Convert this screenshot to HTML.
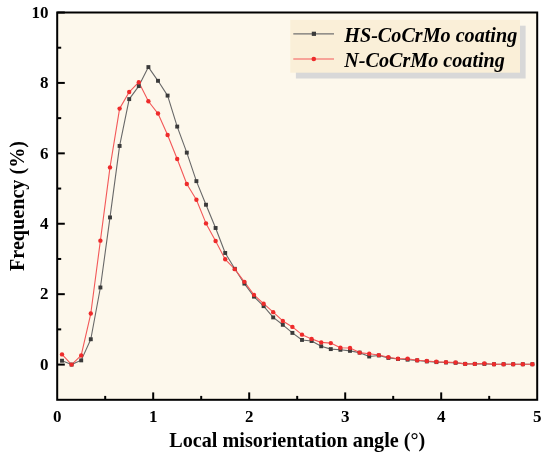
<!DOCTYPE html>
<html><head><meta charset="utf-8"><style>
html,body{margin:0;padding:0;background:#fff;}
body{width:550px;height:462px;overflow:hidden;}
svg{display:block;}
text{font-family:"Liberation Serif","Times New Roman",serif;font-weight:bold;fill:#000;}
.tl{font-size:17px;}
.at{font-size:20.15px;}
.leg{font-size:20.15px;font-style:italic;}
</style></head><body>
<svg width="550" height="462" viewBox="0 0 550 462">
<rect x="57.2" y="12.5" width="480.00000000000006" height="387.3" fill="#FDF8EC"/>
<rect x="295.90000000000003" y="25.7" width="229.7" height="52.8" fill="#D8D8D8"/>
<rect x="290.3" y="19.9" width="229.7" height="52.8" fill="#FAEFD8"/>
<line x1="293.3" y1="33.8" x2="334" y2="33.8" stroke="#707070" stroke-width="1.3"/>
<rect x="311.79999999999995" y="31.699999999999996" width="4.2" height="4.2" fill="#3a3a3a"/>
<line x1="293.3" y1="59" x2="334" y2="59" stroke="#F35858" stroke-width="1.2"/>
<circle cx="313.8" cy="59" r="2.3" fill="#EE2B2B"/>
<text x="344.3" y="41.7" class="leg">HS-CoCrMo coating</text>
<text x="344.3" y="66.8" class="leg">N-CoCrMo coating</text>
<polyline points="62.00,360.72 71.60,364.59 81.20,360.37 90.80,339.24 100.40,287.48 110.00,217.42 119.60,145.94 129.20,99.11 138.80,86.09 148.40,67.07 158.00,80.81 167.60,95.59 177.20,126.58 186.80,152.63 196.40,181.15 206.00,204.74 215.60,227.98 225.20,252.98 234.80,268.82 244.40,283.61 254.00,296.64 263.60,306.14 273.20,317.41 282.80,324.80 292.40,332.90 302.00,339.94 311.60,341.00 321.20,346.28 330.80,349.10 340.40,349.80 350.00,350.86 359.60,352.62 369.20,356.49 378.80,355.44 388.40,357.90 398.00,358.96 407.60,359.66 417.20,360.37 426.80,361.42 436.40,362.13 446.00,362.48 455.60,362.83 465.20,363.89 474.80,363.89 484.40,363.89 494.00,364.24 503.60,364.24 513.20,364.24 522.80,364.24 532.40,364.24" fill="none" stroke="#686868" stroke-width="1.1" stroke-linejoin="round"/>
<polyline points="62.00,354.38 71.60,364.59 81.20,355.44 90.80,313.54 100.40,240.65 110.00,167.42 119.60,108.62 129.20,92.07 138.80,82.21 148.40,101.23 158.00,113.55 167.60,135.03 177.20,158.97 186.80,183.97 196.40,199.81 206.00,223.40 215.60,241.01 225.20,259.32 234.80,269.17 244.40,281.85 254.00,294.88 263.60,303.68 273.20,312.13 282.80,320.93 292.40,326.92 302.00,334.66 311.60,338.89 321.20,342.41 330.80,343.11 340.40,347.69 350.00,348.04 359.60,352.62 369.20,353.68 378.80,355.08 388.40,357.20 398.00,358.78 407.60,358.78 417.20,360.19 426.80,361.07 436.40,361.77 446.00,362.13 455.60,362.48 465.20,363.89 474.80,363.89 484.40,363.53 494.00,364.24 503.60,364.24 513.20,364.24 522.80,364.24 532.40,364.24" fill="none" stroke="#F35858" stroke-width="1.1" stroke-linejoin="round"/>
<g fill="#3a3a3a"><rect x="60.05" y="358.77" width="3.9" height="3.9"/><rect x="69.65" y="362.64" width="3.9" height="3.9"/><rect x="79.25" y="358.42" width="3.9" height="3.9"/><rect x="88.85" y="337.29" width="3.9" height="3.9"/><rect x="98.45" y="285.53" width="3.9" height="3.9"/><rect x="108.05" y="215.47" width="3.9" height="3.9"/><rect x="117.65" y="143.99" width="3.9" height="3.9"/><rect x="127.25" y="97.16" width="3.9" height="3.9"/><rect x="136.85" y="84.14" width="3.9" height="3.9"/><rect x="146.45" y="65.12" width="3.9" height="3.9"/><rect x="156.05" y="78.86" width="3.9" height="3.9"/><rect x="165.65" y="93.64" width="3.9" height="3.9"/><rect x="175.25" y="124.63" width="3.9" height="3.9"/><rect x="184.85" y="150.68" width="3.9" height="3.9"/><rect x="194.45" y="179.20" width="3.9" height="3.9"/><rect x="204.05" y="202.79" width="3.9" height="3.9"/><rect x="213.65" y="226.03" width="3.9" height="3.9"/><rect x="223.25" y="251.03" width="3.9" height="3.9"/><rect x="232.85" y="266.87" width="3.9" height="3.9"/><rect x="242.45" y="281.66" width="3.9" height="3.9"/><rect x="252.05" y="294.69" width="3.9" height="3.9"/><rect x="261.65" y="304.19" width="3.9" height="3.9"/><rect x="271.25" y="315.46" width="3.9" height="3.9"/><rect x="280.85" y="322.85" width="3.9" height="3.9"/><rect x="290.45" y="330.95" width="3.9" height="3.9"/><rect x="300.05" y="337.99" width="3.9" height="3.9"/><rect x="309.65" y="339.05" width="3.9" height="3.9"/><rect x="319.25" y="344.33" width="3.9" height="3.9"/><rect x="328.85" y="347.15" width="3.9" height="3.9"/><rect x="338.45" y="347.85" width="3.9" height="3.9"/><rect x="348.05" y="348.91" width="3.9" height="3.9"/><rect x="357.65" y="350.67" width="3.9" height="3.9"/><rect x="367.25" y="354.54" width="3.9" height="3.9"/><rect x="376.85" y="353.49" width="3.9" height="3.9"/><rect x="386.45" y="355.95" width="3.9" height="3.9"/><rect x="396.05" y="357.01" width="3.9" height="3.9"/><rect x="405.65" y="357.71" width="3.9" height="3.9"/><rect x="415.25" y="358.42" width="3.9" height="3.9"/><rect x="424.85" y="359.47" width="3.9" height="3.9"/><rect x="434.45" y="360.18" width="3.9" height="3.9"/><rect x="444.05" y="360.53" width="3.9" height="3.9"/><rect x="453.65" y="360.88" width="3.9" height="3.9"/><rect x="463.25" y="361.94" width="3.9" height="3.9"/><rect x="472.85" y="361.94" width="3.9" height="3.9"/><rect x="482.45" y="361.94" width="3.9" height="3.9"/><rect x="492.05" y="362.29" width="3.9" height="3.9"/><rect x="501.65" y="362.29" width="3.9" height="3.9"/><rect x="511.25" y="362.29" width="3.9" height="3.9"/><rect x="520.85" y="362.29" width="3.9" height="3.9"/><rect x="530.45" y="362.29" width="3.9" height="3.9"/></g>
<g fill="#EE2B2B"><circle cx="62.00" cy="354.38" r="2.2"/><circle cx="71.60" cy="364.59" r="2.2"/><circle cx="81.20" cy="355.44" r="2.2"/><circle cx="90.80" cy="313.54" r="2.2"/><circle cx="100.40" cy="240.65" r="2.2"/><circle cx="110.00" cy="167.42" r="2.2"/><circle cx="119.60" cy="108.62" r="2.2"/><circle cx="129.20" cy="92.07" r="2.2"/><circle cx="138.80" cy="82.21" r="2.2"/><circle cx="148.40" cy="101.23" r="2.2"/><circle cx="158.00" cy="113.55" r="2.2"/><circle cx="167.60" cy="135.03" r="2.2"/><circle cx="177.20" cy="158.97" r="2.2"/><circle cx="186.80" cy="183.97" r="2.2"/><circle cx="196.40" cy="199.81" r="2.2"/><circle cx="206.00" cy="223.40" r="2.2"/><circle cx="215.60" cy="241.01" r="2.2"/><circle cx="225.20" cy="259.32" r="2.2"/><circle cx="234.80" cy="269.17" r="2.2"/><circle cx="244.40" cy="281.85" r="2.2"/><circle cx="254.00" cy="294.88" r="2.2"/><circle cx="263.60" cy="303.68" r="2.2"/><circle cx="273.20" cy="312.13" r="2.2"/><circle cx="282.80" cy="320.93" r="2.2"/><circle cx="292.40" cy="326.92" r="2.2"/><circle cx="302.00" cy="334.66" r="2.2"/><circle cx="311.60" cy="338.89" r="2.2"/><circle cx="321.20" cy="342.41" r="2.2"/><circle cx="330.80" cy="343.11" r="2.2"/><circle cx="340.40" cy="347.69" r="2.2"/><circle cx="350.00" cy="348.04" r="2.2"/><circle cx="359.60" cy="352.62" r="2.2"/><circle cx="369.20" cy="353.68" r="2.2"/><circle cx="378.80" cy="355.08" r="2.2"/><circle cx="388.40" cy="357.20" r="2.2"/><circle cx="398.00" cy="358.78" r="2.2"/><circle cx="407.60" cy="358.78" r="2.2"/><circle cx="417.20" cy="360.19" r="2.2"/><circle cx="426.80" cy="361.07" r="2.2"/><circle cx="436.40" cy="361.77" r="2.2"/><circle cx="446.00" cy="362.13" r="2.2"/><circle cx="455.60" cy="362.48" r="2.2"/><circle cx="465.20" cy="363.89" r="2.2"/><circle cx="474.80" cy="363.89" r="2.2"/><circle cx="484.40" cy="363.53" r="2.2"/><circle cx="494.00" cy="364.24" r="2.2"/><circle cx="503.60" cy="364.24" r="2.2"/><circle cx="513.20" cy="364.24" r="2.2"/><circle cx="522.80" cy="364.24" r="2.2"/><circle cx="532.40" cy="364.24" r="2.2"/></g>
<g stroke="#000" stroke-width="2"><line x1="105.20" y1="399.8" x2="105.20" y2="395.90000000000003"/><line x1="153.20" y1="399.8" x2="153.20" y2="392.40000000000003"/><line x1="201.20" y1="399.8" x2="201.20" y2="395.90000000000003"/><line x1="249.20" y1="399.8" x2="249.20" y2="392.40000000000003"/><line x1="297.20" y1="399.8" x2="297.20" y2="395.90000000000003"/><line x1="345.20" y1="399.8" x2="345.20" y2="392.40000000000003"/><line x1="393.20" y1="399.8" x2="393.20" y2="395.90000000000003"/><line x1="441.20" y1="399.8" x2="441.20" y2="392.40000000000003"/><line x1="489.20" y1="399.8" x2="489.20" y2="395.90000000000003"/><line x1="57.2" y1="364.59" x2="64.8" y2="364.59"/><line x1="57.2" y1="329.38" x2="61.2" y2="329.38"/><line x1="57.2" y1="294.17" x2="64.8" y2="294.17"/><line x1="57.2" y1="258.96" x2="61.2" y2="258.96"/><line x1="57.2" y1="223.75" x2="64.8" y2="223.75"/><line x1="57.2" y1="188.55" x2="61.2" y2="188.55"/><line x1="57.2" y1="153.34" x2="64.8" y2="153.34"/><line x1="57.2" y1="118.13" x2="61.2" y2="118.13"/><line x1="57.2" y1="82.92" x2="64.8" y2="82.92"/><line x1="57.2" y1="47.71" x2="61.2" y2="47.71"/><line x1="57.2" y1="12.50" x2="64.8" y2="12.50"/></g>
<rect x="57.2" y="12.5" width="480.00000000000006" height="387.3" fill="none" stroke="#000" stroke-width="2"/>
<text x="57.20" y="421.7" text-anchor="middle" class="tl">0</text><text x="153.20" y="421.7" text-anchor="middle" class="tl">1</text><text x="249.20" y="421.7" text-anchor="middle" class="tl">2</text><text x="345.20" y="421.7" text-anchor="middle" class="tl">3</text><text x="441.20" y="421.7" text-anchor="middle" class="tl">4</text><text x="537.20" y="421.7" text-anchor="middle" class="tl">5</text><text x="48.6" y="369.79" text-anchor="end" class="tl">0</text><text x="48.6" y="299.37" text-anchor="end" class="tl">2</text><text x="48.6" y="228.95" text-anchor="end" class="tl">4</text><text x="48.6" y="158.54" text-anchor="end" class="tl">6</text><text x="48.6" y="88.12" text-anchor="end" class="tl">8</text><text x="48.6" y="17.70" text-anchor="end" class="tl">10</text>
<text x="297.3" y="446.5" text-anchor="middle" class="at">Local misorientation angle (°)</text>
<text transform="translate(23.7,206) rotate(-90)" text-anchor="middle" class="at">Frequency (%)</text>
</svg>
</body></html>
